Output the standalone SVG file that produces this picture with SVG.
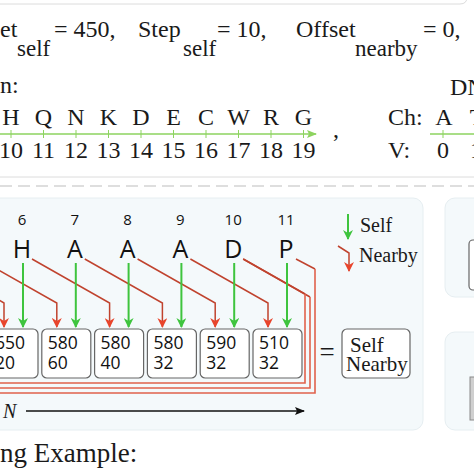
<svg xmlns="http://www.w3.org/2000/svg" width="474" height="474" viewBox="0 0 474 474">
<style>
.serif{font-family:"Liberation Serif","Times New Roman",serif;fill:#1a1a1a}
.t24{font-size:24px}
.sub{font-size:23px}
.sans{font-family:"Open Sans","Noto Sans",sans-serif;fill:#111}
.idx{font-size:15px;text-anchor:middle}
.let{font-size:25px;text-anchor:middle}
.num{font-size:17.5px}
.mid{text-anchor:middle}
.panel{fill:#f4f9fb;stroke:#e6eef1;stroke-width:1}
.box{fill:#fff;stroke:#666;stroke-width:1.2}
.red{fill:none;stroke:#c0432e;stroke-width:1.5}
.wrap{fill:none;stroke:#e0624c;stroke-width:1.6}
.grn{fill:none;stroke:#3ec43e;stroke-width:2}
.axis{stroke:#8dd35f;stroke-width:1.5;fill:none}
.tick{stroke:#8dd35f;stroke-width:1}
</style>
<defs>
<marker id="ah-r" markerUnits="userSpaceOnUse" markerWidth="10" markerHeight="10" refX="9" refY="5" orient="auto">
<path d="M0,0 L10,5 L0,10 L3,5 z" fill="#e8452c"/>
</marker>
<marker id="ah-g" markerUnits="userSpaceOnUse" markerWidth="10" markerHeight="10" refX="9" refY="5" orient="auto">
<path d="M0,0 L10,5 L0,10 L3,5 z" fill="#3ec43e"/>
</marker>
<marker id="ah-k" markerUnits="userSpaceOnUse" markerWidth="10" markerHeight="8" refX="9" refY="4" orient="auto">
<path d="M0,0 L10,4 L0,8 L2,4 z" fill="#111"/>
</marker>
<marker id="ah-a" markerUnits="userSpaceOnUse" markerWidth="10" markerHeight="8" refX="9" refY="4" orient="auto">
<path d="M0,0 L10,4 L0,8 L2,4 z" fill="#8dd35f"/>
</marker>
</defs>
<rect width="474" height="474" fill="#fff"/>

<!-- top frame lines -->
<path d="M0,4 H460 Q467,4 467,-3" fill="none" stroke="#dcdcdc" stroke-width="1"/>
<line x1="0" y1="177" x2="474" y2="177" stroke="#dcdcdc" stroke-width="1"/>
<line x1="0" y1="186" x2="474" y2="186" stroke="#bdbdbd" stroke-width="1.2" stroke-dasharray="12 6"/>

<!-- top formula -->
<g id="formula" class="serif">
<text x="0" y="37" class="t24">et</text>
<text x="17" y="56" class="sub">self</text>
<text x="54" y="37" class="t24">= 450,</text>
<text x="138" y="37" class="t24">Step</text>
<text x="183" y="56" class="sub">self</text>
<text x="217" y="37" class="t24">= 10,</text>
<text x="296" y="37" class="t24">Offset</text>
<text x="355" y="56" class="sub">nearby</text>
<text x="423" y="37" class="t24">= 0,</text>
<text x="0" y="93" class="t24">n:</text>
<text x="450" y="95" class="t24">DN</text>
</g>

<!-- protein sequence axis -->
<g id="protein-axis">
<line x1="-5" y1="134" x2="316" y2="134" class="axis" marker-end="url(#ah-a)"/>
<g class="tick">
<line x1="11" y1="130" x2="11" y2="138"/><line x1="43.5" y1="130" x2="43.5" y2="138"/>
<line x1="76" y1="130" x2="76" y2="138"/><line x1="108.5" y1="130" x2="108.5" y2="138"/>
<line x1="141" y1="130" x2="141" y2="138"/><line x1="173.5" y1="130" x2="173.5" y2="138"/>
<line x1="206" y1="130" x2="206" y2="138"/><line x1="238.5" y1="130" x2="238.5" y2="138"/>
<line x1="271" y1="130" x2="271" y2="138"/><line x1="303.5" y1="130" x2="303.5" y2="138"/>
</g>
<g class="serif t24 mid">
<text x="11" y="125">H</text><text x="43.5" y="125">Q</text><text x="76" y="125">N</text>
<text x="108.5" y="125">K</text><text x="141" y="125">D</text><text x="173.5" y="125">E</text>
<text x="206" y="125">C</text><text x="238.5" y="125">W</text><text x="271" y="125">R</text>
<text x="303.5" y="125">G</text>
<text x="11" y="158">10</text><text x="43.5" y="158">11</text><text x="76" y="158">12</text>
<text x="108.5" y="158">13</text><text x="141" y="158">14</text><text x="173.5" y="158">15</text>
<text x="206" y="158">16</text><text x="238.5" y="158">17</text><text x="271" y="158">18</text>
<text x="303.5" y="158">19</text>
</g>
<text x="333" y="137" class="serif t24">,</text>
</g>

<!-- DNA axis -->
<g id="dna-axis">
<line x1="430" y1="134" x2="480" y2="134" class="axis"/>
<line x1="443" y1="130" x2="443" y2="138" class="tick"/>
<text x="388" y="125" class="serif t24">Ch:</text>
<text x="444" y="125" class="serif t24 mid">A</text>
<text x="477" y="125" class="serif t24 mid">T</text>
<text x="388" y="158" class="serif t24">V:</text>
<text x="443" y="158" class="serif t24 mid">0</text>
<text x="476" y="158" class="serif t24 mid">1</text>
</g>

<!-- panels -->
<rect id="panel-main" x="-10" y="198" width="433" height="232" rx="10" class="panel"/>
<g id="panel-right-top">
<rect x="445" y="198" width="45" height="99" rx="10" class="panel"/>
<rect x="469" y="240" width="20" height="50" rx="4" class="box"/>
</g>
<g id="panel-right-bottom">
<rect x="445" y="332" width="45" height="98" rx="10" class="panel"/>
<rect x="470" y="377" width="10" height="43" fill="#cfcfcf" stroke="#8a8a8a" stroke-width="1"/>
</g>

<!-- residues -->
<g id="residues" class="sans">
<g id="r6"><text x="22" y="225" class="idx">6</text><text x="22" y="258" class="let">H</text></g>
<g id="r7"><text x="74.8" y="225" class="idx">7</text><text x="74.8" y="258" class="let">A</text></g>
<g id="r8"><text x="127.6" y="225" class="idx">8</text><text x="127.6" y="258" class="let">A</text></g>
<g id="r9"><text x="180.4" y="225" class="idx">9</text><text x="180.4" y="258" class="let">A</text></g>
<g id="r10"><text x="233.2" y="225" class="idx">10</text><text x="233.2" y="258" class="let">D</text></g>
<g id="r11"><text x="286" y="225" class="idx">11</text><text x="286" y="258" class="let">P</text></g>
</g>

<!-- connectors -->
<g id="connectors">
<path class="red" d="M-73.6,259 L4,303 V327" marker-end="url(#ah-r)"/>
<path class="red" d="M-20.8,259 L56.8,303 V327" marker-end="url(#ah-r)"/>
<path class="red" d="M32,259 L109.6,303 V327" marker-end="url(#ah-r)"/>
<path class="red" d="M84.8,259 L162.4,303 V327" marker-end="url(#ah-r)"/>
<path class="red" d="M137.6,259 L215.2,303 V327" marker-end="url(#ah-r)"/>
<path class="red" d="M190.4,259 L268,303 V327" marker-end="url(#ah-r)"/>
<path class="red" d="M243.2,259 L305,294"/>
<path class="red" d="M243.2,259 L310,297"/>
<path class="red" d="M296,259 L315,269"/>
<path class="wrap" d="M305,294 V383 H-5"/>
<path class="wrap" d="M310,297 V388 H-5"/>
<path class="wrap" d="M315,269 V393 H-5"/>
<line x1="23" y1="263" x2="23" y2="327" class="grn" marker-end="url(#ah-g)"/>
<line x1="75.8" y1="263" x2="75.8" y2="327" class="grn" marker-end="url(#ah-g)"/>
<line x1="128.6" y1="263" x2="128.6" y2="327" class="grn" marker-end="url(#ah-g)"/>
<line x1="181.4" y1="263" x2="181.4" y2="327" class="grn" marker-end="url(#ah-g)"/>
<line x1="234.2" y1="263" x2="234.2" y2="327" class="grn" marker-end="url(#ah-g)"/>
<line x1="287" y1="263" x2="287" y2="327" class="grn" marker-end="url(#ah-g)"/>
<line x1="26" y1="411" x2="304" y2="411" stroke="#111" stroke-width="1.4" marker-end="url(#ah-k)"/>
</g>

<!-- value boxes -->
<g id="b6"><rect x="-11" y="329" width="49" height="49" rx="5" class="box"/><text x="-5" y="349" class="sans num">650</text><text x="-5" y="369" class="sans num">20</text></g>
<g id="b7"><rect x="41.8" y="329" width="49" height="49" rx="5" class="box"/><text x="47.8" y="349" class="sans num">580</text><text x="47.8" y="369" class="sans num">60</text></g>
<g id="b8"><rect x="94.6" y="329" width="49" height="49" rx="5" class="box"/><text x="100.6" y="349" class="sans num">580</text><text x="100.6" y="369" class="sans num">40</text></g>
<g id="b9"><rect x="147.4" y="329" width="49" height="49" rx="5" class="box"/><text x="153.4" y="349" class="sans num">580</text><text x="153.4" y="369" class="sans num">32</text></g>
<g id="b10"><rect x="200.2" y="329" width="49" height="49" rx="5" class="box"/><text x="206.2" y="349" class="sans num">590</text><text x="206.2" y="369" class="sans num">32</text></g>
<g id="b11"><rect x="253" y="329" width="49" height="49" rx="5" class="box"/><text x="259" y="349" class="sans num">510</text><text x="259" y="369" class="sans num">32</text></g>

<!-- equals and key box -->
<text x="327" y="361" class="serif mid" style="font-size:27px">=</text>
<g id="key-box">
<rect x="342" y="329" width="68" height="49" rx="5" class="box"/>
<text x="350" y="352" class="serif" style="font-size:21px">Self</text>
<text x="346" y="371" class="serif" style="font-size:21px">Nearby</text>
</g>

<!-- legend -->
<g id="legend">
<line x1="348" y1="214" x2="348" y2="239" class="grn" marker-end="url(#ah-g)"/>
<path d="M338,246 L349,253 V271" class="red" marker-end="url(#ah-r)"/>
<text x="360" y="232" class="serif" style="font-size:20px">Self</text>
<text x="359" y="262" class="serif" style="font-size:20px">Nearby</text>
</g>

<text x="3" y="418" class="serif" style="font-size:20px;font-style:italic">N</text>
<text x="0" y="462" class="serif" style="font-size:27px">ng Example:</text>
</svg>
